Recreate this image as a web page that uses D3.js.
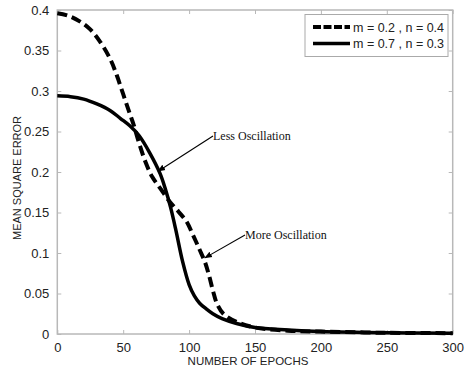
<!DOCTYPE html>
<html><head><meta charset="utf-8">
<script src="https://cdn.jsdelivr.net/npm/d3@7"></script>
<style>body{margin:0;background:#fff}svg{display:block}</style>
</head><body><svg id="c" width="474" height="371"></svg>
<script>
const epochsA = [0,8,17,25,32,40,45,50,55,58,62,67,72,78,85,92,98,103,108,112,115,118,121,126,136,150,175,200,250,300];
const mseA    = [0.396,0.393,0.386,0.376,0.362,0.340,0.320,0.296,0.272,0.258,0.236,0.212,0.194,0.180,0.164,0.151,0.139,0.122,0.104,0.089,0.073,0.054,0.038,0.025,0.015,0.008,0.004,0.003,0.0015,0.001];
const epochsB = [0,10,20,30,40,48,55,62,70,78,82,86,90,95,100,104,108,113,118,125,136,150,175,200,250,300];
const mseB    = [0.294,0.293,0.290,0.284,0.276,0.266,0.257,0.245,0.224,0.198,0.179,0.156,0.128,0.090,0.061,0.047,0.038,0.031,0.025,0.019,0.013,0.008,0.005,0.003,0.0015,0.001];
const seriesNames = ["m = 0.2 , n = 0.4", "m = 0.7 , n = 0.3"];
const xTicks = [0,50,100,150,200,250,300];
const yTicks = [0,0.05,0.1,0.15,0.2,0.25,0.3,0.35,0.4];
const yTickLabels = ["0","0.05","0.1","0.15","0.2","0.25","0.3","0.35","0.4"];
const annotations = [
  {text:"Less Oscillation", ex:76.5, ey:0.201, tx:213, ty:136},
  {text:"More Oscillation", ex:112, ey:0.094, tx:245, ty:235}
];

const svg = d3.select("#c");
const L=57.3, R=452.7, T=10, B=334;
const x = d3.scaleLinear().domain([0,300]).range([L,R]);
const y = d3.scaleLinear().domain([0,0.4]).range([B,T]);
const axCol="#b8b8b8", txtCol="#222";

svg.append("rect").attr("x",L).attr("y",T).attr("width",R-L).attr("height",B-T)
  .attr("fill","none").attr("stroke",axCol).attr("stroke-width",1.5);

function styleAxis(g){
  g.select(".domain").remove();
  g.selectAll(".tick line").attr("stroke",axCol).attr("stroke-width",1);
  g.selectAll(".tick text").attr("fill",txtCol).style("font-family","Arial, 'Liberation Sans', sans-serif").style("font-size","13px");
}
svg.append("g").attr("transform",`translate(0,${B})`)
  .call(d3.axisBottom(x).tickValues(xTicks).tickSize(-4).tickPadding(9).tickFormat(d3.format("d")))
  .call(styleAxis);
svg.append("g").attr("transform",`translate(0,${T})`)
  .call(d3.axisTop(x).tickValues(xTicks).tickSize(-4).tickFormat(""))
  .call(styleAxis);
svg.append("g").attr("transform",`translate(${L},0)`)
  .call(d3.axisLeft(y).tickValues(yTicks).tickSize(-4).tickPadding(8).tickFormat((d,i)=>yTickLabels[i]))
  .call(styleAxis);
svg.append("g").attr("transform",`translate(${R},0)`)
  .call(d3.axisRight(y).tickValues(yTicks).tickSize(-4).tickFormat(""))
  .call(styleAxis);

svg.append("text").attr("x",248).attr("y",365).attr("text-anchor","middle")
  .attr("fill",txtCol).style("font-family","Arial, 'Liberation Sans', sans-serif").style("font-size","11.5px")
  .text("NUMBER OF EPOCHS");
svg.append("text").attr("transform","translate(21,178) rotate(-90)").attr("text-anchor","middle")
  .attr("fill",txtCol).style("font-family","Arial, 'Liberation Sans', sans-serif").style("font-size","11px")
  .text("MEAN SQUARE ERROR");

const line = d3.line().curve(d3.curveCatmullRom.alpha(0.5));
const ptsA = epochsA.map((e,i)=>[x(e),y(mseA[i])]);
const ptsB = epochsB.map((e,i)=>[x(e),y(mseB[i])]);
svg.append("path").attr("d",line(ptsB)).attr("fill","none").attr("stroke","#000").attr("stroke-width",3.5);
svg.append("path").attr("d",line(ptsA)).attr("fill","none").attr("stroke","#000").attr("stroke-width",4)
  .attr("stroke-dasharray","10,5");

svg.append("defs").append("marker").attr("id","ar").attr("viewBox","0 0 10 10").attr("refX",9).attr("refY",5)
  .attr("markerWidth",7).attr("markerHeight",7).attr("orient","auto")
  .append("path").attr("d","M0,1 L10,5 L0,9 Z").attr("fill","#000");
annotations.forEach(a=>{
  svg.append("line").attr("x1",a.tx).attr("y1",a.ty).attr("x2",x(a.ex)).attr("y2",y(a.ey))
    .attr("stroke","#000").attr("stroke-width",1.1).attr("marker-end","url(#ar)");
  svg.append("text").attr("x",a.tx).attr("y",a.ty+4).attr("fill","#111")
    .style("font-family","'Liberation Serif','Times New Roman',serif").style("font-size","12px").text(a.text);
});

const lg = svg.append("g");
lg.append("rect").attr("x",305).attr("y",14.5).attr("width",143).attr("height",42)
  .attr("fill","#fff").attr("stroke","#aaa").attr("stroke-width",1);
seriesNames.forEach((n,i)=>{
  const yy = 27 + i*16.5;
  lg.append("line").attr("x1",313).attr("x2",350).attr("y1",yy).attr("y2",yy)
    .attr("stroke","#000").attr("stroke-width",i===0?4:3.5).attr("stroke-dasharray",i===0?"8,2.5":null);
  lg.append("text").attr("x",353).attr("y",yy+4.5).attr("fill",txtCol)
    .style("font-family","Arial, 'Liberation Sans', sans-serif").style("font-size","12.5px").text(n);
});
</script></body></html>
